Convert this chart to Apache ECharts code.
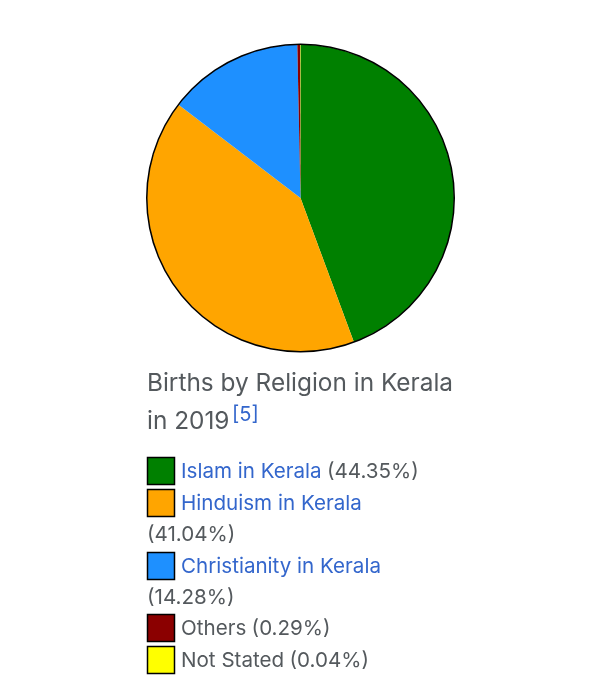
<!DOCTYPE html>
<html>
<head>
<meta charset="utf-8">
<style>
  html, body { margin: 0; padding: 0; background: #fff; }
  #chart { width: 601px; height: 680px; }
</style>
<script src="https://cdn.jsdelivr.net/npm/echarts@6/dist/echarts.min.js"></script>
</head>
<body>
<div id="chart"></div>
<script>
const categories = ['Islam in Kerala', 'Hinduism in Kerala', 'Christianity in Kerala', 'Others', 'Not Stated'];
const shares = [44.35, 41.04, 14.28, 0.29, 0.04];
const colors = ['#008000', '#ffa500', '#1e90ff', '#8b0000', '#ffff00'];
const isLink = [true, true, true, false, false];
const wrapped = [false, true, true, false, false];

const FONT = 'Inter, Roboto, sans-serif';
const TEXT = '#54595d';
const LINK = '#3366cc';

const chart = echarts.init(document.getElementById('chart'));

// Legend rows: swatch and label, wrapped rows put the share on the next line
const legendTop = [457, 489, 552, 614, 646];
const legendItems = [];
categories.forEach((name, i) => {
    const top = legendTop[i];
    legendItems.push({
        type: 'rect',
        shape: { x: 147.5, y: top + 0.5, width: 27, height: 27 },
        style: { fill: colors[i], stroke: '#000', lineWidth: 1.5 }
    });
    const share = `(${shares[i]}%)`;
    const nameColor = isLink[i] ? LINK : TEXT;
    if (wrapped[i]) {
        legendItems.push({
            type: 'text', x: 181, y: top + 15,
            style: { text: name, font: `20.6px ${FONT}`, fill: nameColor, verticalAlign: 'middle' }
        });
        legendItems.push({
            type: 'text', x: 147, y: top + 46,
            style: { text: share, font: `20.6px ${FONT}`, fill: TEXT, verticalAlign: 'middle' }
        });
    } else {
        legendItems.push({
            type: 'text', x: 181, y: top + 15,
            style: {
                text: `{name|${name}} {share|${share}}`,
                verticalAlign: 'middle',
                rich: {
                    name: { font: `20.6px ${FONT}`, fill: nameColor, color: nameColor },
                    share: { font: `20.6px ${FONT}`, fill: TEXT, color: TEXT, padding: [0, 0, 0, 2] }
                }
            }
        });
    }
});

chart.setOption({
    animation: false,
    series: [
        {
            type: 'pie',
            center: [300.5, 198],
            radius: [0, 153.5],
            startAngle: 90,
            clockwise: true,
            silent: true,
            label: { show: false },
            labelLine: { show: false },
            data: categories.map((name, i) => ({
                name,
                value: shares[i],
                itemStyle: { color: colors[i] }
            }))
        },
        {
            // thin black outline around the pie
            type: 'pie',
            center: [300.5, 198],
            radius: [153, 154.5],
            silent: true,
            label: { show: false },
            labelLine: { show: false },
            itemStyle: { color: '#000' },
            data: [{ name: 'outline', value: 1 }]
        }
    ],
    graphic: [
        {
            type: 'text', x: 147, y: 384,
            style: { text: 'Births by Religion in Kerala', font: `24.4px ${FONT}`, fill: TEXT, verticalAlign: 'middle' }
        },
        {
            type: 'text', x: 147, y: 422,
            style: { text: 'in 2019', font: `24.4px ${FONT}`, fill: TEXT, verticalAlign: 'middle' }
        },
        {
            type: 'text', x: 232, y: 415,
            style: { text: '[5]', font: `20px ${FONT}`, fill: LINK, verticalAlign: 'middle' }
        },
        ...legendItems
    ]
});
</script>
</body>
</html>
